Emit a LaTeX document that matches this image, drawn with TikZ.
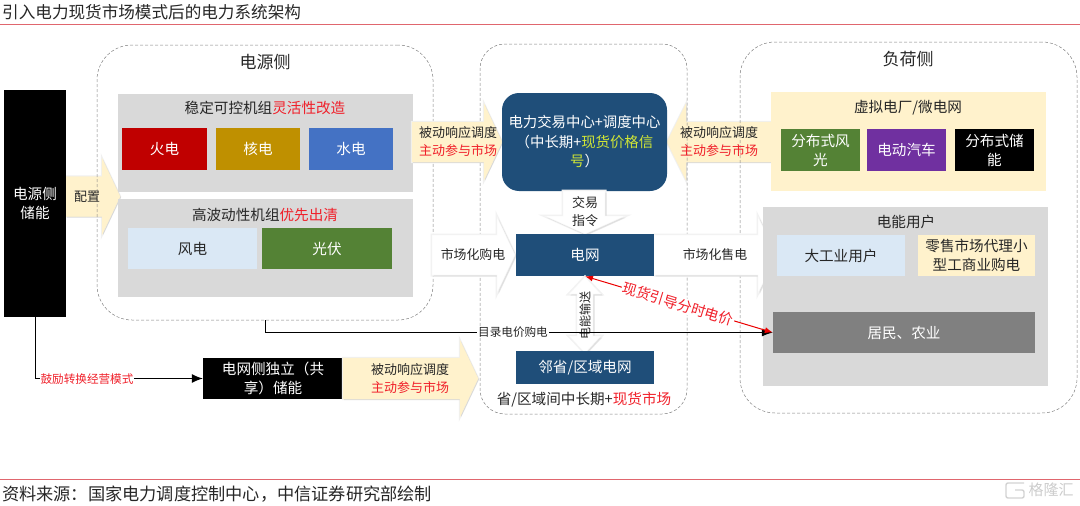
\documentclass[tikz,border=0pt]{standalone}
\usepackage{fontspec}
\setmainfont{Noto Sans CJK SC}
\usepackage{tikz}
\usetikzlibrary{calc}
\usetikzlibrary{shadows}
\usetikzlibrary{arrows.meta}
\definecolor{darkblue}{HTML}{1F4E79}
\definecolor{softyellow}{HTML}{FFF2CC}
\definecolor{softblue}{HTML}{DAE8F5}
\definecolor{softgray}{HTML}{D9D9D9}
\definecolor{textblack}{HTML}{262626}
\definecolor{hotred}{HTML}{F0202A}
\definecolor{signalyellow}{HTML}{CFE536}
\definecolor{rulered}{HTML}{E0666E}
\definecolor{firered}{HTML}{C00000}
\definecolor{nucleargold}{HTML}{BF9000}
\definecolor{hydroblue}{HTML}{4472C4}
\definecolor{solargreen}{HTML}{548235}
\definecolor{evpurple}{HTML}{7030A0}
\newcommand{\fsize}[2]{\fontsize{#1}{#2}\selectfont}
% from x to tip x, head base x, centre y, half shaft, half head
\newcommand{\createarrow}[7]{\filldraw[#7] ( #1 , #4 - #5 ) -- ( #3 , #4 - #5 ) -- ( #3 , #4 - #6 ) -- ( #2 , #4 ) -- ( #3 , #4 + #6 ) -- ( #3 , #4 + #5 ) -- ( #1 , #4 + #5 ) -- cycle;}
\tikzset{
  yellowarrow/.style={fill=softyellow, draw=softyellow, preaction={draw=gray!12, line width=2.4pt}, drop shadow={shadow xshift=1pt, shadow yshift=-1pt, opacity=.2}},
  whitearrow/.style={fill=white, draw=gray!6, preaction={draw=gray!10, line width=3pt}, drop shadow={shadow xshift=1.5pt, shadow yshift=-1.5pt, opacity=.16}},
  region/.style={draw=gray, densely dashed, line width=.5pt, rounded corners=#1},
  panel/.style={inner sep=0pt, align=center},
  cell/.style={inner sep=0pt, align=center, text=white, font=\fsize{14.6}{19}},
  heading/.style={text=textblack, font=\fsize{14.6}{15}, inner sep=0pt},
  arrowtext/.style={text=textblack, font=\fsize{13}{18}, inner sep=0pt, align=center},
  linelabel/.style={fill=white, inner sep=1pt, font=\fsize{11.6}{12}, text=textblack},
}
\begin{document}
\begin{tikzpicture}[x=1pt,y=-1pt]
    \useasboundingbox (0,0) rectangle (1080,506);
    \node[inner sep=0pt, anchor=west, text=textblack, font=\fsize{16.6}{17}] (title) at (2,12) {引入电力现货市场模式后的电力系统架构};
    \coordinate (topl) at (0,24);
    \coordinate (topr) at (1080,24);
    \draw[rulered, line width=.8pt] (topl) -- (topr);
    \coordinate (botl) at (0,479);
    \coordinate (botr) at (1080,479);
    \draw[rulered, line width=.8pt] (botl) -- (botr);
    \node[inner sep=0pt, anchor=west, text=textblack, font=\fsize{17.2}{18}] (source) at (2,494) {资料来源^^^^ff1a国家电力调度控制中心^^^^ff0c中信证券研究部绘制};
    %arrows under the dashed regions
    \createarrow{66}{120}{102}{196.5}{20}{38}{yellowarrow}
    \createarrow{771}{667}{686}{142}{20}{38}{yellowarrow}
    %regions
    \node[region=35pt, minimum width=336pt, minimum height=275pt] (powerside) at (265,182.5) {};
    \node[region=25pt, minimum width=207pt, minimum height=370pt] (centreside) at (583.5,229) {};
    \node[region=35pt, minimum width=337pt, minimum height=371pt] (loadside) at (908.5,227.5) {};
    \node[heading, font=\fsize{17}{17}] (powertitle) at (265,62) {电源侧};
    \node[heading, font=\fsize{17}{17}] (loadtitle) at (908,59) {负荷侧};
    %power side
    \node[cell, fill=black, minimum width=62pt, minimum height=227pt] (storage) at (35,203.5) {电源侧\\储能};
    \node[arrowtext] (config) at (87,197) {配置};
    \node[panel, fill=softgray, minimum width=295pt, minimum height=98pt] (stable) at (265,142.5) {};
    \node[heading] (stabletitle) at (265,108) {稳定可控机组\textcolor{hotred}{灵活性改造}};
    \node[cell, fill=firered, minimum width=85pt, minimum height=42pt] (thermal) at (164.5,149) {火电};
    \node[cell, fill=nucleargold, minimum width=84pt, minimum height=42pt] (nuclear) at (258,149) {核电};
    \node[cell, fill=hydroblue, minimum width=84pt, minimum height=42pt] (hydro) at (351,149) {水电};
    \node[panel, fill=softgray, minimum width=295pt, minimum height=98pt] (flexible) at (265,248) {};
    \node[heading] (flexibletitle) at (265,215) {高波动性机组\textcolor{hotred}{优先出清}};
    \node[cell, fill=softblue, text=textblack, minimum width=129pt, minimum height=41pt] (wind) at (192.5,248.5) {风电};
    \node[cell, fill=solargreen, minimum width=130pt, minimum height=41pt] (solar) at (327,248.5) {光伏};
    %centre
    \createarrow{412}{502}{484}{142}{20}{38}{yellowarrow}
    \node[arrowtext] (passivea) at (458,142) {被动响应调度\\\textcolor{hotred}{主动参与市场}};
    \node[arrowtext] (passiveb) at (719,142) {被动响应调度\\\textcolor{hotred}{主动参与市场}};
    \node[cell, fill=darkblue, rounded corners=17pt, minimum width=165pt, minimum height=98pt, font=\fsize{14.4}{19.5}] (exchange) at (584.5,142) {电力交易中心+调度中心\\^^^^ff08中长期+\textcolor{signalyellow}{现货价格信}\\\textcolor{signalyellow}{号}^^^^ff09};
    %instruction arrow
    \filldraw[whitearrow] (563,191) -- (605,191) -- (605,216) -- (625,216) -- (585,234) -- (545,216) -- (563,216) -- cycle;
    \node[arrowtext] (order) at (585,212) {交易\\指令};
    \createarrow{432}{515}{497}{255}{20}{38}{whitearrow}
    \createarrow{654}{777}{758}{255}{20}{38}{whitearrow}
    \node[arrowtext, font=\fsize{12.9}{14}] (buying) at (473,255) {市场化购电};
    \node[arrowtext, font=\fsize{12.9}{14}] (selling) at (715,255) {市场化售电};
    \node[cell, fill=darkblue, minimum width=138pt, minimum height=42pt] (grid) at (585,255) {电网};
    %transfer arrow
    \filldraw[whitearrow] (585,277) -- (601,294) -- (593,294) -- (593,336) -- (601,336) -- (585,353) -- (569,336) -- (577,336) -- (577,294) -- (569,294) -- cycle;
    \node[arrowtext, font=\fsize{12}{12}, rotate=90] (transfer) at (585,315) {电能输送};
    \node[cell, fill=darkblue, minimum width=138pt, minimum height=33pt] (neighbour) at (585,367.5) {邻省/区域电网};
    \node[heading] (interprov) at (584,400) {省/区域间中长期+\textcolor{hotred}{现货市场}};
    %load side
    \node[panel, fill=softyellow, minimum width=275pt, minimum height=99pt] (virtual) at (908.5,141.5) {};
    \node[heading] (virtualtitle) at (908,108) {虚拟电厂/微电网};
    \node[cell, fill=solargreen, minimum width=79pt, minimum height=42pt] (dres) at (820.5,150) {分布式风\\光};
    \node[cell, fill=evpurple, minimum width=79pt, minimum height=42pt] (ev) at (906.5,150) {电动汽车};
    \node[cell, fill=black, minimum width=79pt, minimum height=42pt] (dstorage) at (994.5,150) {分布式储\\能};
    \node[panel, fill=softgray, minimum width=285pt, minimum height=179pt] (users) at (905.5,296.5) {};
    \node[heading] (userstitle) at (906,222) {电能用户};
    \node[cell, fill=softblue, text=textblack, minimum width=128pt, minimum height=41pt] (industry) at (841,255.5) {大工业用户};
    \node[cell, fill=softyellow, text=textblack, minimum width=117pt, minimum height=41pt] (retail) at (976.5,255.5) {零售市场代理小\\型工商业购电};
    \node[cell, fill=black!50, minimum width=262pt, minimum height=41pt] (residents) at (904,332.5) {居民、农业};
    %connectors
    \draw[black, line width=1pt, -{Latex[length=11pt,width=8pt]}] (powerside.south) |- (residents.west);
    \node[linelabel] (catalog) at (513,332) {目录电价购电};
    \draw[red!92!black, line width=1pt, {Latex[length=8pt,width=6pt]}-{Latex[length=8pt,width=6pt]}] (grid.south) -- (residents.west);
    \node[linelabel, text=hotred, rotate=-17, font=\fsize{14.4}{15}] (spotsignal) at (678,304) {现货引导分时电价};
    \node[cell, fill=black, minimum width=140pt, minimum height=41pt] (gridstorage) at (273,378.5) {电网侧独立^^^^ff08共\\享^^^^ff09储能};
    \draw[black, line width=1pt, -{Latex[length=11pt,width=9pt]}] (storage.south) |- (gridstorage.west);
    \node[linelabel, text=hotred] (encourage) at (87,379) {鼓励转换经营模式};
    \createarrow{343}{478}{460}{378.5}{20.5}{38}{yellowarrow}
    \node[arrowtext] (passivec) at (410,379) {被动响应调度\\\textcolor{hotred}{主动参与市场}};
    %watermark
    \draw[gray!35, line width=1.4pt, rounded corners=2pt] (1024,483) -- (1006,483) -- (1006,498) -- (1024,498) -- (1024,490) -- (1015,490);
    \node[inner sep=0pt, text=gray!40, font=\fsize{15}{15}] (logo) at (1051,490) {格隆汇};
\end{tikzpicture}
\end{document}
